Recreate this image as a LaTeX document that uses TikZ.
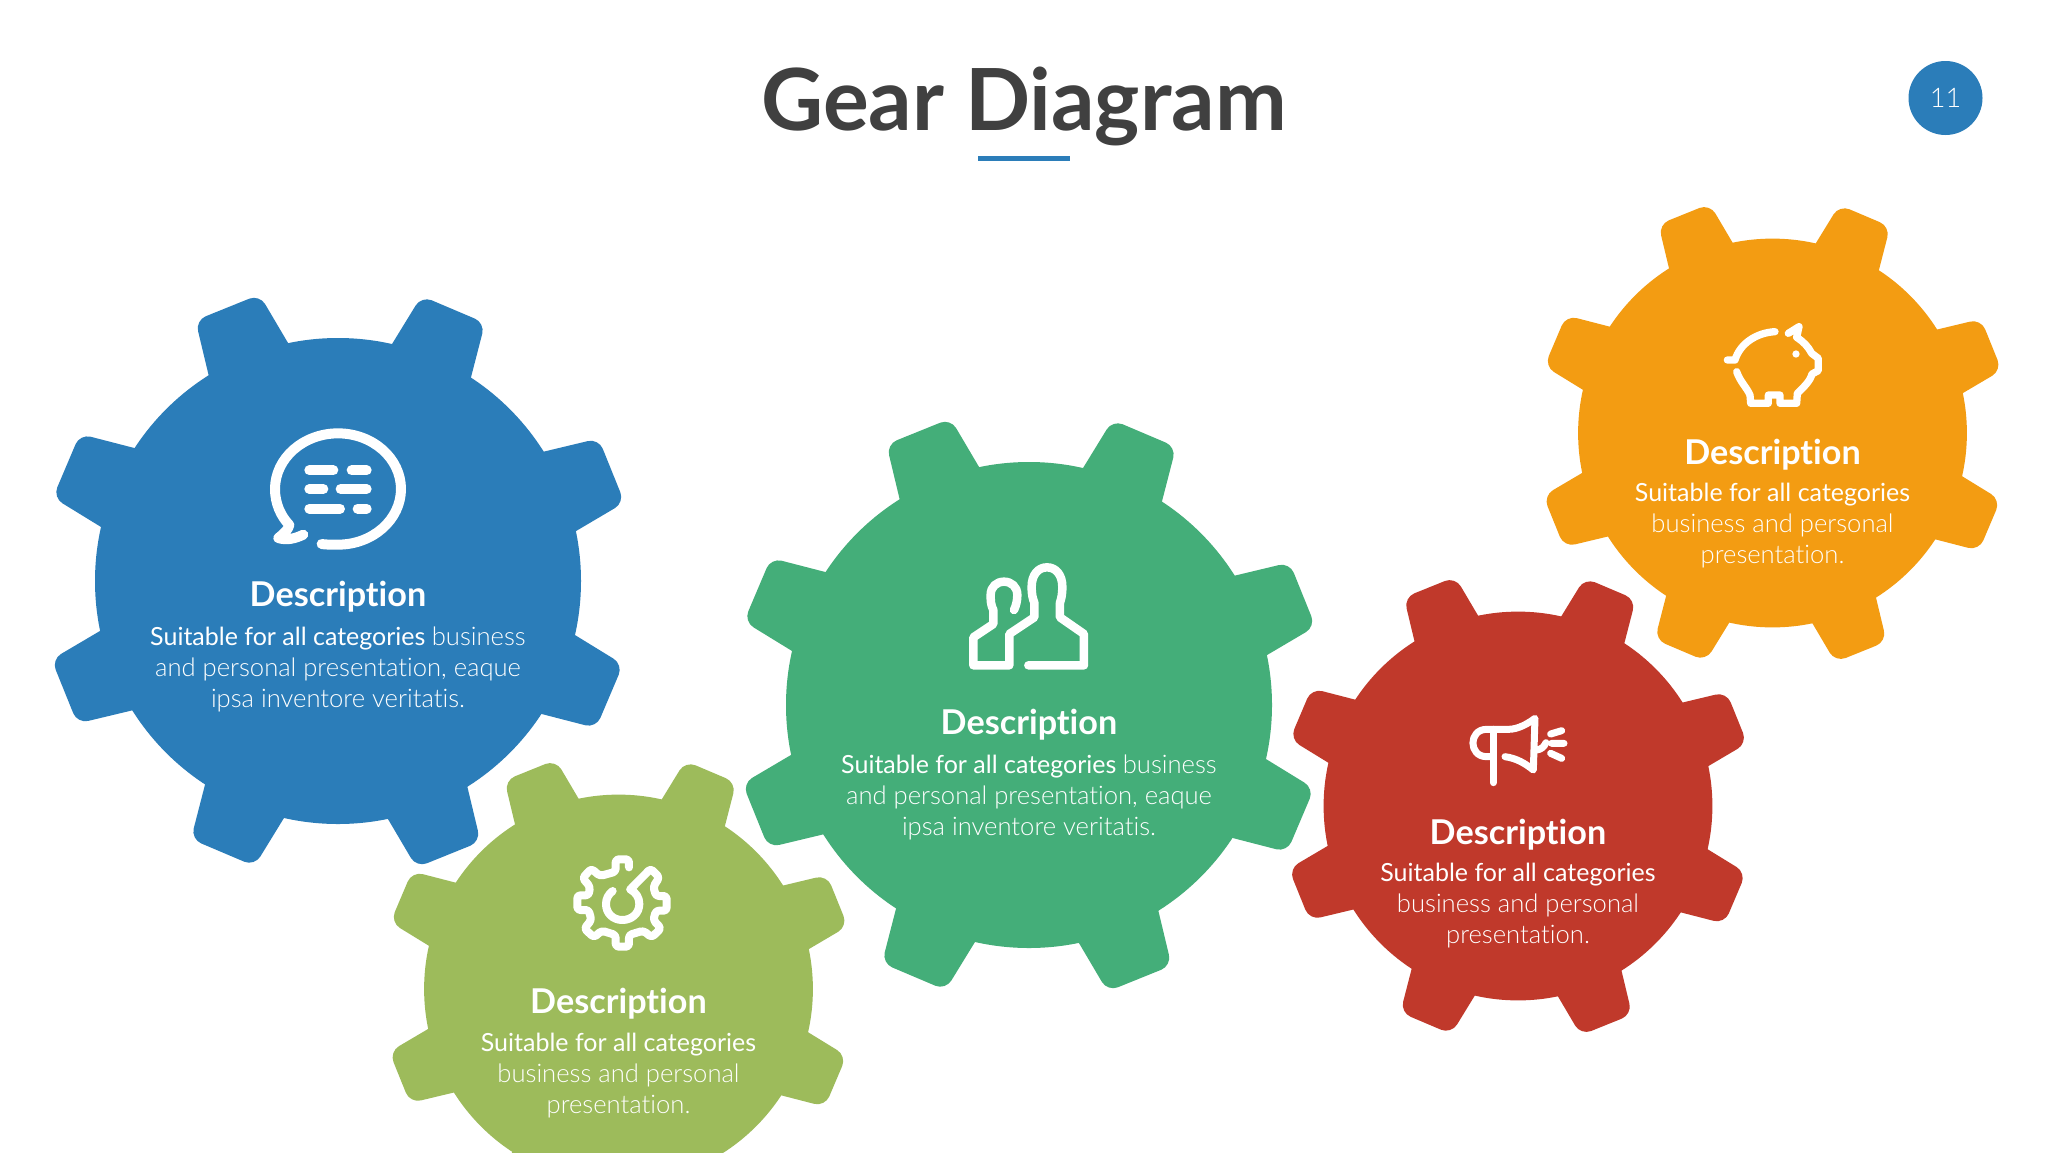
\documentclass[tikz,border=0pt]{standalone}
\usepackage{fontspec}
\setmainfont{Lato}[Ligatures=NoCommon]
\newfontfamily\lightfont{Lato Light}[Ligatures=NoCommon]
\definecolor{cblue}{HTML}{2B7DB9}
\definecolor{cgreen}{HTML}{44AE79}
\definecolor{colive}{HTML}{9DBB5B}
\definecolor{cred}{HTML}{C0392B}
\definecolor{corange}{HTML}{F39C12}
\definecolor{ctitle}{HTML}{404040}
\tikzset{
  headtext/.style={anchor=base,inner sep=0pt,text=white,font=\bfseries\fontsize{34.2}{34.2}\selectfont},
  bodytext/.style={anchor=base,inner sep=0pt,text=white,font=\fontsize{25}{31}\selectfont},
  lighttext/.style={anchor=base,inner sep=0pt,text=white,font=\lightfont\fontsize{25.6}{31}\selectfont},
  iconline/.style={draw=white,line cap=round,line join=round,fill=none},
}
\newcommand{\mygear}[4]{%
  \begin{scope}[shift={(#1,#2)},scale=#3]
    \fill[#4] (0,0) circle[radius=243];
    \foreach \a in {22,67,...,337}{
      \fill[#4,rotate=\a,rounded corners=11pt] (205,-48) -- (295,-34.5) -- (295,34.5) -- (205,48) -- cycle;
    }
  \end{scope}}
\begin{document}
\begin{tikzpicture}[x=1pt,y=-1pt]
\path[use as bounding box] (0,0) rectangle (2048,1152);
\clip (0,0) rectangle (2048,1152);
\fill[white] (0,0) rectangle (2048,1152);

% title
\node[anchor=base,inner sep=0pt,text=ctitle,font=\bfseries\fontsize{85.7}{86}\selectfont] (title) at (1024,130) {Gear Diagram};
\draw[cblue,line width=4.5pt] (978,158.5) -- (1070,158.5);
\node[circle,fill=cblue,minimum size=74pt,inner sep=0pt,text=white,font=\lightfont\fontsize{27}{27}\selectfont] (page) at (1945.5,98) {11};

% gears
\mygear{338}{581}{1}{cblue}
\mygear{1029}{705}{1}{cgreen}
\mygear{618.5}{989}{0.8}{colive}
\mygear{1518}{806}{0.8}{cred}
\mygear{1772.5}{433}{0.8}{corange}

% blue text
\node[headtext] (h1) at (338,606.5) {Description};
\node[bodytext] (b1a) at (338,645.2) {Suitable for all categories {\lightfont\fontsize{25.6}{31}\selectfont business}};
\node[lighttext] (b1b) at (338,676.2) {and personal presentation, eaque};
\node[lighttext] (b1c) at (338,707.2) {ipsa inventore veritatis.};
% green text
\node[headtext] (h2) at (1029,734.5) {Description};
\node[bodytext] (b2a) at (1029,773.3) {Suitable for all categories {\lightfont\fontsize{25.6}{31}\selectfont business}};
\node[lighttext] (b2b) at (1029,804.3) {and personal presentation, eaque};
\node[lighttext] (b2c) at (1029,835.3) {ipsa inventore veritatis.};
% olive text
\node[headtext] (h3) at (618.5,1013.8) {Description};
\node[bodytext] (b3a) at (618.5,1051) {Suitable for all categories};
\node[lighttext] (b3b) at (618.5,1082) {business and personal};
\node[lighttext] (b3c) at (618.5,1113) {presentation.};
% red text
\node[headtext] (h4) at (1518,844) {Description};
\node[bodytext] (b4a) at (1518,881.2) {Suitable for all categories};
\node[lighttext] (b4b) at (1518,912.2) {business and personal};
\node[lighttext] (b4c) at (1518,943.2) {presentation.};
% orange text
\node[headtext] (h5) at (1772.5,464.6) {Description};
\node[bodytext] (b5a) at (1772.5,501.2) {Suitable for all categories};
\node[lighttext] (b5b) at (1772.5,532.2) {business and personal};
\node[lighttext] (b5c) at (1772.5,563.2) {presentation.};

% speech bubble icon
\begin{scope}[shift={(250,410)},x=0.3333pt,y=-0.3333pt,iconline,line width=10pt]
  \draw (215,402) .. controls (225,404) and (245,404) .. (264,404) .. controls (368,404) and (453,329) .. (453,237) .. controls (453,145) and (368,70) .. (264,70) .. controls (160,70) and (75,145) .. (75,237) .. controls (75,280) and (92,318) .. (118,345) .. controls (116,358) and (100,372) .. (85,384) .. controls (110,392) and (135,386) .. (160,374);
  \draw (178,181) -- (250,181) (305,181) -- (350,181) (178,237) -- (220,237) (272,237) -- (350,237) (178,296) -- (270,296) (323,296) -- (350,296);
\end{scope}

% people icon
\begin{scope}[shift={(920,530)},x=0.3333pt,y=-0.3333pt,iconline,line width=8.5pt]
  \draw (325,406) -- (492,406) -- (492,312) -- (420,262) -- (420,218) .. controls (424,205) and (427,195) .. (427,170) .. controls (427,135) and (408,112) .. (381,112) .. controls (354,112) and (335,135) .. (335,170) .. controls (335,195) and (338,205) .. (343,218) -- (343,262) -- (268,312) -- (268,406) -- (160,406) -- (160,322) -- (220,282) -- (220,240) .. controls (212,225) and (212,210) .. (212,195) .. controls (212,170) and (230,155) .. (252,155) .. controls (274,155) and (292,170) .. (292,195) .. controls (292,212) and (288,228) .. (282,240);
\end{scope}

% gear icon
\begin{scope}[shift={(550,840)},x=0.3333pt,y=-0.3333pt,iconline,line width=8pt]
  \draw[rounded corners=3pt] (237,82) -- (237,58) -- (197,58) -- (197,95) -- (150,108) -- (124,86) -- (98,114) -- (120,140) -- (116,166) -- (82,166) -- (82,210) -- (116,210) -- (124,240) -- (103,266) -- (132,292) -- (155,272) -- (197,285) -- (197,320) -- (237,320) -- (237,285) -- (280,272) -- (305,292) -- (333,265) -- (310,240) -- (318,212) -- (350,212) -- (350,168) -- (318,168) -- (310,140) -- (328,112) -- (302,86) -- (241,148);
  \draw (241,148) .. controls (258,158) and (268,172) .. (268,192) .. controls (268,220) and (245,240) .. (217,240) .. controls (189,240) and (168,220) .. (168,192) .. controls (168,176) and (175,163) .. (188,153);
\end{scope}

% megaphone icon
\begin{scope}[shift={(1440,690)},x=0.3333pt,y=-0.3333pt,iconline,line width=7pt]
  \draw (160,278) -- (160,118);
  \draw (160,200) -- (140,200) .. controls (85,200) and (85,118) .. (140,118) -- (205,118) .. controls (235,118) and (265,100) .. (285,85) -- (280,240) .. controls (255,220) and (230,205) .. (195,200);
  \draw (290,180) .. controls (305,178) and (312,170) .. (318,158);
  \draw (332,132) -- (365,122) (335,160) -- (372,160) (332,190) -- (365,205);
\end{scope}

% piggy icon
\begin{scope}[shift={(1690,300)},x=0.3333pt,y=-0.3333pt,iconline,line width=7.3pt]
  \draw (112,180) -- (135,180) .. controls (150,130) and (200,98) .. (255,95);
  \draw (140,215) .. controls (150,245) and (170,262) .. (180,285) -- (182,310) -- (235,310) -- (235,285) -- (270,285) -- (270,310) -- (320,310) -- (322,280) .. controls (340,262) and (360,245) .. (366,222) -- (385,212) -- (385,175) -- (365,160) .. controls (355,140) and (340,125) .. (320,112) -- (327,80) -- (295,100);
  \fill[white,draw=none] (318,162) circle[radius=11];
\end{scope}
\end{tikzpicture}
\end{document}
